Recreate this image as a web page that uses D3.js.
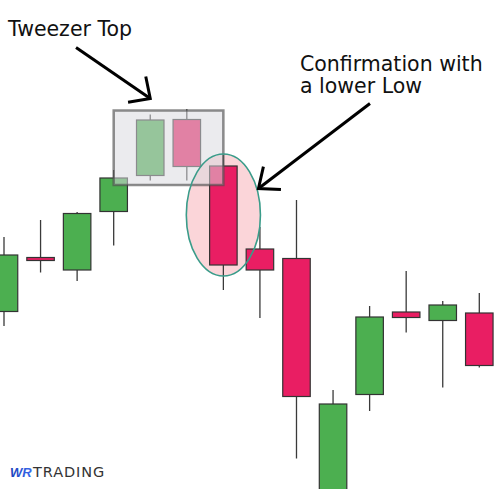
<!DOCTYPE html>
<html lang="en">
<head>
    <meta charset="utf-8">
    <script src="https://cdn.jsdelivr.net/npm/d3@7"></script>
    <style>
        body { margin: 0; background: #fff; }
    </style>
</head>
<body>
<div id="chart"></div>
<script>
    // candle values (arbitrary price units)
    var opens  = [37.7, 48.5, 46.0, 57.7, 64.9, 76.1, 66.8, 50.2, 48.3, -3.0, 21.1, 37.6, 35.9, 37.4]
    var highs  = [52.6, 56.0, 57.6, 66.0, 77.1, 78.2, 69.0, 54.6, 60.0, 22.0, 38.8, 45.8, 39.8, 41.4]
    var lows   = [34.8, 45.5, 43.8, 50.9, 63.9, 63.9, 42.0, 36.4,  8.3, -5.0, 17.8, 33.5, 22.5, 26.5]
    var closes = [49.0, 47.9, 57.3, 64.4, 76.0, 66.7, 47.0, 46.0, 20.7, 19.2, 36.6, 36.5, 39.0, 26.9]

    var labels = ["Tweezer Top", "Confirmation with", "a lower Low"]
    var logoParts = ["WR", "TRADING"]

    var width = 500
        height = 489
        bodyW = 27.5

    var svg = d3.select("#chart")
        .append("svg")
            .attr("width", width)
            .attr("height", height)

    var x = d3.scaleLinear().domain([0, 13]).range([4, 479.3])
    var y = d3.scaleLinear().domain([0, 100]).range([500, 0])

    var candles = d3.range(opens.length).map(function(i) {
        return {i: i, o: opens[i], h: highs[i], l: lows[i], c: closes[i]}
    })

    var defs = svg.append("defs")
    var grad = defs.append("linearGradient").attr("id", "wr")
        .attr("x1", 0).attr("x2", 1).attr("y1", 0).attr("y2", 0)
    grad.append("stop").attr("offset", "0%").attr("stop-color", "#1b3fb8")
    grad.append("stop").attr("offset", "100%").attr("stop-color", "#3a6cf0")

    // highlight ellipse fill (behind the candles)
    svg.append("ellipse")
        .attr("cx", x(6))
        .attr("cy", y(57))
        .attr("rx", x(1) - x(0) + 0.5)
        .attr("ry", y(0) - y(12.2))
        .attr("fill", "#fbd5d9")

    // wicks
    svg.selectAll(".wick")
        .data(candles)
        .enter()
        .append("line")
            .attr("x1", function(d) { return x(d.i) })
            .attr("x2", function(d) { return x(d.i) })
            .attr("y1", function(d) { return y(d.h) })
            .attr("y2", function(d) { return y(d.l) })
            .attr("stroke", "#3a3a3a")
            .attr("stroke-width", 1.3)

    // bodies
    svg.selectAll(".body")
        .data(candles)
        .enter()
        .append("rect")
            .attr("x", function(d) { return x(d.i) - bodyW / 2 })
            .attr("width", bodyW)
            .attr("y", function(d) { return y(Math.max(d.o, d.c)) })
            .attr("height", function(d) { return Math.abs(y(d.o) - y(d.c)) })
            .attr("fill", function(d) { return d.c >= d.o ? "#4caf50" : "#e91e63" })
            .attr("stroke", "#333")
            .attr("stroke-width", 1.2)

    // tweezer box overlay
    svg.append("rect")
        .attr("x", x(3))
        .attr("y", y(77.9))
        .attr("width", x(6) - x(3))
        .attr("height", y(63) - y(77.9))
        .attr("fill", "rgb(217,218,223)")
        .attr("fill-opacity", 0.53)
        .attr("stroke", "rgba(80,80,80,0.65)")
        .attr("stroke-width", 2.5)

    // ellipse outline
    svg.append("ellipse")
        .attr("cx", x(6))
        .attr("cy", y(57))
        .attr("rx", x(1) - x(0) + 0.5)
        .attr("ry", y(0) - y(12.2))
        .attr("fill", "none")
        .attr("stroke", "#3a9c8a")
        .attr("stroke-width", 1.6)

    // arrows, given in data space: [from index, from price, to index, to price, head angle]
    var arrows = [
        [1.97, 90.5, 4.0, 80.3, 44],
        [10.01, 79.3, 6.96, 62.3, 40]
    ]
    arrows.forEach(function(a) {
        var x1 = x(a[0]), y1 = y(a[1]), x2 = x(a[2]), y2 = y(a[3])
        var ang = Math.atan2(y1 - y2, x1 - x2)
        var spread = a[4] * Math.PI / 180
        var len = 22.5
        svg.append("line")
            .attr("x1", x1).attr("y1", y1).attr("x2", x2).attr("y2", y2)
            .attr("stroke", "#000").attr("stroke-width", 3)
        svg.append("path")
            .attr("d", "M" + (x2 + len * Math.cos(ang - spread)) + "," + (y2 + len * Math.sin(ang - spread)) +
                "L" + x2 + "," + y2 +
                "L" + (x2 + len * Math.cos(ang + spread)) + "," + (y2 + len * Math.sin(ang + spread)))
            .attr("fill", "none")
            .attr("stroke", "#000")
            .attr("stroke-width", 3)
            .attr("stroke-linejoin", "miter")
    })

    // annotation text
    svg.append("text")
        .attr("x", 8).attr("y", 36)
        .attr("font-family", "DejaVu Sans")
        .attr("font-size", 20.5)
        .attr("fill", "#111")
        .text(labels[0])
    svg.append("text")
        .attr("x", 300).attr("y", 70.5)
        .attr("font-family", "DejaVu Sans")
        .attr("font-size", 20.5)
        .attr("fill", "#111")
        .text(labels[1])
    svg.append("text")
        .attr("x", 300).attr("y", 92.5)
        .attr("font-family", "DejaVu Sans")
        .attr("font-size", 20.5)
        .attr("fill", "#111")
        .text(labels[2])

    // logo
    svg.append("text")
        .attr("x", 10).attr("y", 476.5)
        .attr("font-family", "Liberation Sans")
        .attr("font-weight", "bold")
        .attr("font-style", "italic")
        .attr("font-size", 13)
        .attr("fill", "url(#wr)")
        .text(logoParts[0])
    svg.append("text")
        .attr("x", 33).attr("y", 476.5)
        .attr("font-family", "DejaVu Sans")
        .attr("font-size", 14.5)
        .attr("letter-spacing", 0.9)
        .attr("fill", "#333")
        .text(logoParts[1])
</script>
</body>
</html>
